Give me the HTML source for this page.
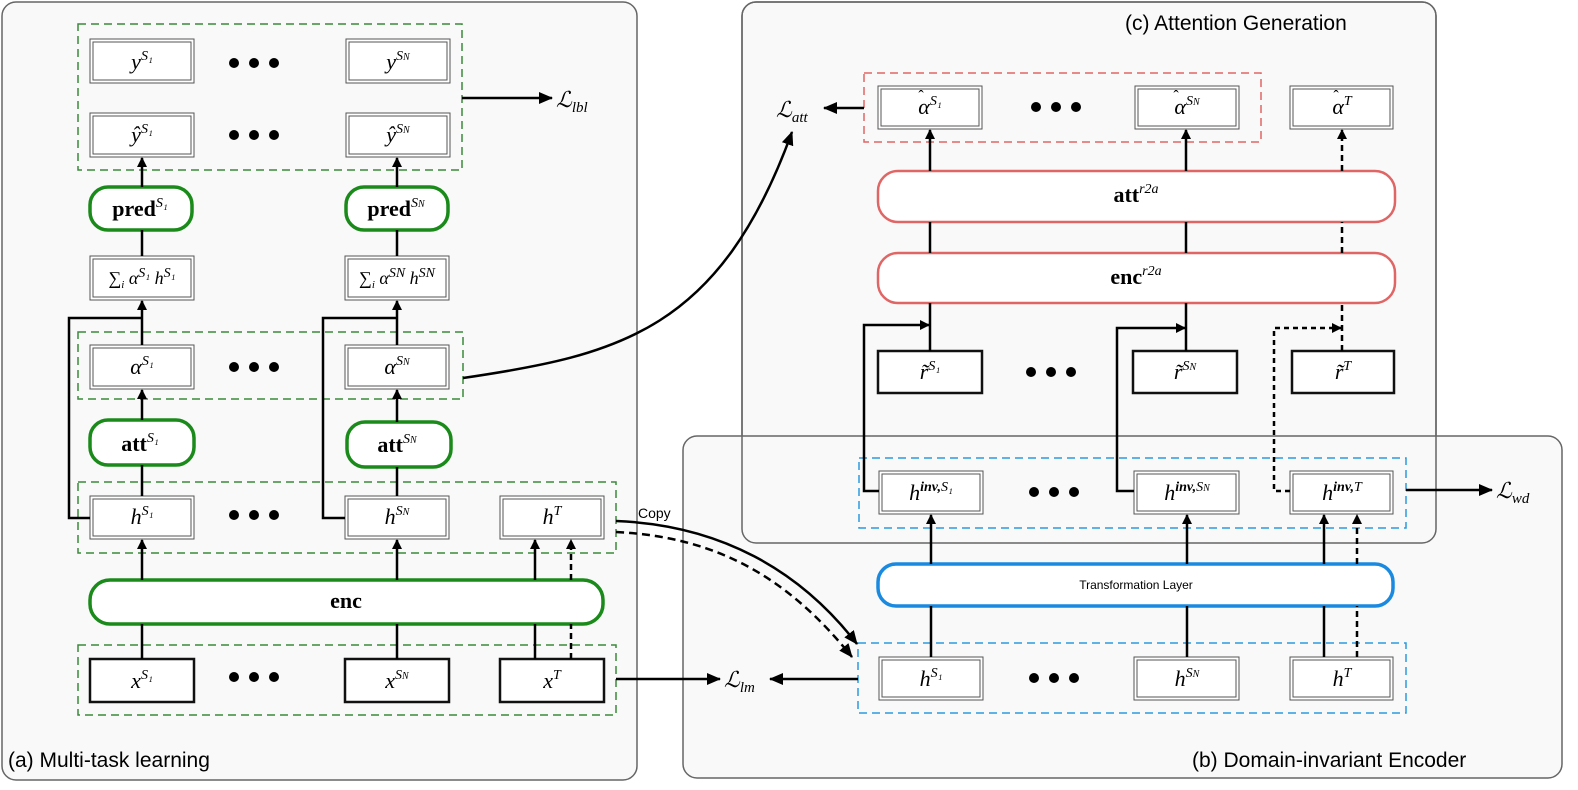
<!DOCTYPE html>
<html><head><meta charset="utf-8"><style>
html,body{margin:0;padding:0;background:#fff;}
svg{display:block;}
.m{font-family:"Liberation Serif",serif;font-style:italic;font-size:22px;}
.b{font-family:"Liberation Serif",serif;font-weight:bold;font-size:22px;}
.s{font-family:"Liberation Serif",serif;font-style:italic;font-size:14px;}
.lab{font-family:"Liberation Sans",sans-serif;font-size:21px;}
</style></head><body>
<svg width="1578" height="790" viewBox="0 0 1578 790" xmlns="http://www.w3.org/2000/svg">
<defs>
<marker id="ar" markerWidth="10" markerHeight="10" refX="9" refY="5" orient="auto" markerUnits="userSpaceOnUse" viewBox="0 0 10 10"><path d="M0,0 L10,5 L0,10 z" fill="#000"/></marker>
<marker id="ar2" markerWidth="14" markerHeight="12" refX="13" refY="6" orient="auto" markerUnits="userSpaceOnUse" viewBox="0 0 14 12"><path d="M0,0 L14,6 L0,12 z" fill="#000"/></marker>
</defs>
<rect x="2" y="2" width="635" height="778" rx="14" fill="#f9f9f9" stroke="#666" stroke-width="1.5"/>
<rect x="742" y="2" width="694" height="541" rx="14" fill="#f9f9f9" stroke="#666" stroke-width="1.5"/>
<rect x="683" y="436" width="879" height="342" rx="14" fill="#f9f9f9" stroke="#666" stroke-width="1.5"/>
<rect x="742" y="2" width="694" height="541" rx="14" fill="none" stroke="#666" stroke-width="1.5"/>

<g fill="#fff" stroke="#555" stroke-width="1">
<rect x="90" y="39" width="104" height="44"/><rect x="93" y="42" width="98" height="38"/>
<rect x="346" y="39" width="104" height="44"/><rect x="349" y="42" width="98" height="38"/>
<rect x="90" y="113" width="104" height="44"/><rect x="93" y="116" width="98" height="38"/>
<rect x="346" y="113" width="104" height="44"/><rect x="349" y="116" width="98" height="38"/>
<rect x="90" y="256" width="104" height="44"/><rect x="93" y="259" width="98" height="38"/>
<rect x="345" y="256" width="104" height="44"/><rect x="348" y="259" width="98" height="38"/>
<rect x="90" y="345" width="104" height="44"/><rect x="93" y="348" width="98" height="38"/>
<rect x="345" y="345" width="104" height="44"/><rect x="348" y="348" width="98" height="38"/>
<rect x="90" y="496" width="104" height="43"/><rect x="93" y="499" width="98" height="37"/>
<rect x="345" y="496" width="104" height="43"/><rect x="348" y="499" width="98" height="37"/>
<rect x="500" y="496" width="104" height="43"/><rect x="503" y="499" width="98" height="37"/>
<rect x="878" y="86" width="104" height="43"/><rect x="881" y="89" width="98" height="37"/>
<rect x="1135" y="86" width="104" height="43"/><rect x="1138" y="89" width="98" height="37"/>
<rect x="1290" y="86" width="103" height="43"/><rect x="1293" y="89" width="97" height="37"/>
<rect x="879" y="471" width="104" height="43"/><rect x="882" y="474" width="98" height="37"/>
<rect x="1134" y="471" width="105" height="43"/><rect x="1137" y="474" width="99" height="37"/>
<rect x="1290" y="471" width="103" height="43"/><rect x="1293" y="474" width="97" height="37"/>
<rect x="879" y="657" width="104" height="43"/><rect x="882" y="660" width="98" height="37"/>
<rect x="1134" y="657" width="105" height="43"/><rect x="1137" y="660" width="99" height="37"/>
<rect x="1290" y="657" width="103" height="43"/><rect x="1293" y="660" width="97" height="37"/>
</g>
<g fill="#fff" stroke="#111" stroke-width="2.5">
<rect x="90" y="659" width="104" height="43"/><rect x="345" y="659" width="104" height="43"/><rect x="500" y="659" width="104" height="43"/>
<rect x="878" y="351" width="104" height="42"/><rect x="1133" y="351" width="104" height="42"/><rect x="1292" y="351" width="102" height="42"/>
</g>
<g fill="#fff" stroke="#1a8a1a" stroke-width="3.5">
<rect x="90" y="187" width="102" height="43" rx="18"/><rect x="346" y="187" width="102" height="43" rx="18"/>
<rect x="90" y="420" width="104" height="45" rx="18"/><rect x="347" y="422" width="104" height="45" rx="18"/>
<rect x="90" y="580" width="513" height="44" rx="20"/>
</g>
<g fill="#fff" stroke="#e06666" stroke-width="2.5">
<rect x="878" y="171" width="517" height="51" rx="20"/><rect x="878" y="253" width="517" height="50" rx="20"/>
</g>
<rect x="878" y="564" width="515" height="42" rx="18" fill="#fff" stroke="#1a8ae0" stroke-width="3.5"/>
<g fill="none" stroke-width="1.5" stroke-dasharray="8,5">
<rect x="78" y="24" width="384" height="146" stroke="#3a8a3a"/>
<rect x="78" y="332" width="385" height="67" stroke="#3a8a3a"/>
<rect x="78" y="482" width="538" height="71" stroke="#3a8a3a"/>
<rect x="78" y="645" width="538" height="70" stroke="#3a8a3a"/>
<rect x="864" y="73" width="397" height="69" stroke="#e06666"/>
<rect x="859" y="458" width="547" height="70" stroke="#2a9ae0"/>
<rect x="858" y="643" width="548" height="70" stroke="#2a9ae0"/>
</g>
<g stroke="#000" stroke-width="2.5" fill="none">
<line x1="142" y1="187" x2="142" y2="158" marker-end="url(#ar)"/>
<line x1="397" y1="187" x2="397" y2="158" marker-end="url(#ar)"/>
<line x1="142" y1="256" x2="142" y2="230"/><line x1="397" y1="256" x2="397" y2="230"/>
<line x1="142" y1="345" x2="142" y2="301" marker-end="url(#ar)"/>
<line x1="397" y1="345" x2="397" y2="301" marker-end="url(#ar)"/>
<polyline points="90,518 69,518 69,318 142,318"/><polyline points="345,518 323,518 323,318 397,318"/>
<line x1="142" y1="420" x2="142" y2="390" marker-end="url(#ar)"/>
<line x1="397" y1="422" x2="397" y2="390" marker-end="url(#ar)"/>
<line x1="142" y1="496" x2="142" y2="465"/><line x1="397" y1="496" x2="397" y2="467"/>
<line x1="142" y1="580" x2="142" y2="540" marker-end="url(#ar)"/>
<line x1="397" y1="580" x2="397" y2="540" marker-end="url(#ar)"/>
<line x1="535" y1="580" x2="535" y2="540" marker-end="url(#ar)"/>
<line x1="571" y1="580" x2="571" y2="540" stroke-dasharray="6,4" marker-end="url(#ar)"/>
<line x1="142" y1="659" x2="142" y2="624"/><line x1="397" y1="659" x2="397" y2="624"/><line x1="535" y1="659" x2="535" y2="624"/>
<line x1="571" y1="659" x2="571" y2="624" stroke-dasharray="6,4"/>
<line x1="462" y1="98" x2="552" y2="98" marker-end="url(#ar2)"/>
<path d="M463,378 C620,355 720,330 792,132" marker-end="url(#ar2)"/>
<path d="M616,521 C720,525 800,570 857,644" marker-end="url(#ar2)"/>
<path d="M616,532 C720,537 790,580 852,657" stroke-dasharray="8,5" marker-end="url(#ar2)"/>
<line x1="616" y1="679" x2="720" y2="679" marker-end="url(#ar2)"/>
<line x1="858" y1="679" x2="770" y2="679" marker-end="url(#ar2)"/>
<line x1="864" y1="108" x2="824" y2="108" marker-end="url(#ar2)"/>
<line x1="930" y1="171" x2="930" y2="130" marker-end="url(#ar)"/>
<line x1="1186" y1="171" x2="1186" y2="130" marker-end="url(#ar)"/>
<line x1="1342" y1="171" x2="1342" y2="130" stroke-dasharray="6,4" marker-end="url(#ar)"/>
<line x1="930" y1="253" x2="930" y2="222"/><line x1="1186" y1="253" x2="1186" y2="222"/>
<line x1="1342" y1="253" x2="1342" y2="222" stroke-dasharray="6,4"/>
<line x1="930" y1="351" x2="930" y2="303"/><line x1="1186" y1="351" x2="1186" y2="303"/>
<line x1="1342" y1="351" x2="1342" y2="303" stroke-dasharray="6,4"/>
<polyline points="879,491 864,491 864,325 929,325" marker-end="url(#ar)"/>
<polyline points="1134,491 1117,491 1117,328 1185,328" marker-end="url(#ar)"/>
<polyline points="1290,491 1274,491 1274,328 1341,328" stroke-dasharray="5,4" marker-end="url(#ar)"/>
<line x1="931" y1="564" x2="931" y2="515" marker-end="url(#ar)"/>
<line x1="1187" y1="564" x2="1187" y2="515" marker-end="url(#ar)"/>
<line x1="1324" y1="564" x2="1324" y2="515" marker-end="url(#ar)"/>
<line x1="1357" y1="564" x2="1357" y2="515" stroke-dasharray="6,4" marker-end="url(#ar)"/>
<line x1="931" y1="657" x2="931" y2="606"/><line x1="1187" y1="657" x2="1187" y2="606"/><line x1="1324" y1="657" x2="1324" y2="606"/>
<line x1="1357" y1="657" x2="1357" y2="606" stroke-dasharray="6,4"/>
<line x1="1406" y1="490" x2="1492" y2="490" marker-end="url(#ar2)"/>
</g>
<g fill="#000">
<circle cx="234" cy="63" r="5"/><circle cx="254" cy="63" r="5"/><circle cx="274" cy="63" r="5"/>
<circle cx="234" cy="135" r="5"/><circle cx="254" cy="135" r="5"/><circle cx="274" cy="135" r="5"/>
<circle cx="234" cy="367" r="5"/><circle cx="254" cy="367" r="5"/><circle cx="274" cy="367" r="5"/>
<circle cx="234" cy="515" r="5"/><circle cx="254" cy="515" r="5"/><circle cx="274" cy="515" r="5"/>
<circle cx="234" cy="677" r="5"/><circle cx="254" cy="677" r="5"/><circle cx="274" cy="677" r="5"/>
<circle cx="1036" cy="107" r="5"/><circle cx="1056" cy="107" r="5"/><circle cx="1076" cy="107" r="5"/>
<circle cx="1031" cy="372" r="5"/><circle cx="1051" cy="372" r="5"/><circle cx="1071" cy="372" r="5"/>
<circle cx="1034" cy="492" r="5"/><circle cx="1054" cy="492" r="5"/><circle cx="1074" cy="492" r="5"/>
<circle cx="1034" cy="678" r="5"/><circle cx="1054" cy="678" r="5"/><circle cx="1074" cy="678" r="5"/>
</g>
<g text-anchor="middle" class="m">
<text x="142" y="69">y<tspan class="s" dy="-9">S₁</tspan></text>
<text x="398" y="69">y<tspan class="s" dy="-9">S<tspan font-size="10">N</tspan></tspan></text>
<text x="142" y="142">ŷ<tspan class="s" dy="-9">S₁</tspan></text>
<text x="398" y="142">ŷ<tspan class="s" dy="-9">S<tspan font-size="10">N</tspan></tspan></text>
<text x="142" y="284" font-size="18">∑<tspan font-size="11" dy="4">i</tspan><tspan dy="-4"> α</tspan><tspan class="s" font-size="10" dy="-7">S₁</tspan><tspan dy="7"> h</tspan><tspan class="s" font-size="10" dy="-7">S₁</tspan></text>
<text x="397" y="284" font-size="18">∑<tspan font-size="11" dy="4">i</tspan><tspan dy="-4"> α</tspan><tspan class="s" font-size="10" dy="-7">SN</tspan><tspan dy="7"> h</tspan><tspan class="s" font-size="10" dy="-7">SN</tspan></text>
<text x="142" y="374">α<tspan class="s" dy="-9">S₁</tspan></text>
<text x="397" y="374">α<tspan class="s" dy="-9">S<tspan font-size="10">N</tspan></tspan></text>
<text x="142" y="524">h<tspan class="s" dy="-9">S₁</tspan></text>
<text x="397" y="524">h<tspan class="s" dy="-9">S<tspan font-size="10">N</tspan></tspan></text>
<text x="552" y="524">h<tspan class="s" dy="-9">T</tspan></text>
<text x="142" y="688">x<tspan class="s" dy="-9">S₁</tspan></text>
<text x="397" y="688">x<tspan class="s" dy="-9">S<tspan font-size="10">N</tspan></tspan></text>
<text x="552" y="688">x<tspan class="s" dy="-9">T</tspan></text>
<text x="930" y="114">α<tspan class="s" dy="-9">S₁</tspan></text>
<text x="1187" y="114">α<tspan class="s" dy="-9">S<tspan font-size="10">N</tspan></tspan></text>
<text x="1342" y="114">α<tspan class="s" dy="-9">T</tspan></text>
<text x="930" y="379">r̃<tspan class="s" dy="-9">S₁</tspan></text>
<text x="1185" y="379">r̃<tspan class="s" dy="-9">S<tspan font-size="10">N</tspan></tspan></text>
<text x="1343" y="379">r̃<tspan class="s" dy="-9">T</tspan></text>
<text x="931" y="500">h<tspan class="s" font-style="normal" font-weight="bold" dy="-9">inv,</tspan><tspan class="s">S₁</tspan></text>
<text x="1187" y="500">h<tspan class="s" font-style="normal" font-weight="bold" dy="-9">inv,</tspan><tspan class="s">S<tspan font-size="10">N</tspan></tspan></text>
<text x="1342" y="500">h<tspan class="s" font-style="normal" font-weight="bold" dy="-9">inv,</tspan><tspan class="s">T</tspan></text>
<text x="931" y="686">h<tspan class="s" dy="-9">S₁</tspan></text>
<text x="1187" y="686">h<tspan class="s" dy="-9">S<tspan font-size="10">N</tspan></tspan></text>
<text x="1342" y="686">h<tspan class="s" dy="-9">T</tspan></text>
</g>
<g font-family="Liberation Serif,serif" font-size="16" text-anchor="middle">
<text x="921" y="101">ˆ</text><text x="1176" y="101">ˆ</text><text x="1336" y="101">ˆ</text>
</g>
<g text-anchor="middle" class="b">
<text x="140" y="216">pred<tspan class="s" font-weight="normal" dy="-9">S₁</tspan></text>
<text x="396" y="216">pred<tspan class="s" font-weight="normal" dy="-9">S<tspan font-size="10">N</tspan></tspan></text>
<text x="140" y="451">att<tspan class="s" font-weight="normal" dy="-9">S₁</tspan></text>
<text x="397" y="452">att<tspan class="s" font-weight="normal" dy="-9">S<tspan font-size="10">N</tspan></tspan></text>
<text x="346" y="608">enc</text>
<text x="1136" y="202">att<tspan class="s" font-weight="normal" font-style="italic" dy="-9">r2a</tspan></text>
<text x="1136" y="284">enc<tspan class="s" font-weight="normal" font-style="italic" dy="-9">r2a</tspan></text>
</g>
<g class="m" font-size="24">
<text x="556" y="107">ℒ<tspan font-size="15" dy="5">lbl</tspan></text>
<text x="776" y="117">ℒ<tspan font-size="15" dy="5">att</tspan></text>
<text x="724" y="687">ℒ<tspan font-size="15" dy="5">lm</tspan></text>
<text x="1496" y="498">ℒ<tspan font-size="15" dy="5">wd</tspan></text>
</g>
<text x="1136" y="589" text-anchor="middle" font-family="Liberation Sans,sans-serif" font-size="12">Transformation Layer</text>
<text x="638" y="518" font-family="Liberation Sans,sans-serif" font-size="14">Copy</text>
<text x="8" y="767" class="lab">(a) Multi-task learning</text>
<text x="1192" y="767" class="lab">(b) Domain-invariant Encoder</text>
<text x="1125" y="30" class="lab">(c) Attention Generation</text>
</svg>
</body></html>
